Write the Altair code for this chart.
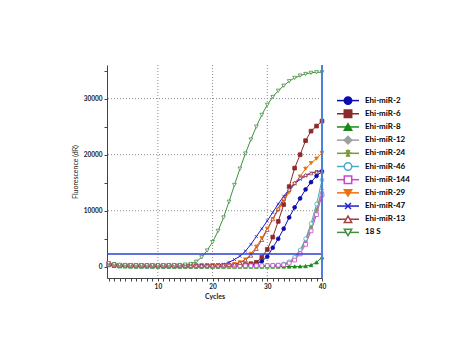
import altair as alt
import pandas as pd

cycles = list(range(1, 41))

series_names = ["Ehi-miR-2", "Ehi-miR-6", "Ehi-miR-8", "Ehi-miR-12", "Ehi-miR-24",
                "Ehi-miR-46", "Ehi-miR-144", "Ehi-miR-29", "Ehi-miR-47", "Ehi-miR-13", "18 S"]
series_colors = ["#0b0bb0", "#8c2a2a", "#1a8a1a", "#a0a0a0", "#7a9a3a",
                 "#4bacc6", "#cc44cc", "#f07010", "#2020d0", "#a04040", "#3f8f3f"]
series_fills = ["#0b0bb0", "#8c2a2a", "#1a8a1a", "#a0a0a0", "#7a9a3a",
                "white", "white", "#f07010", "#2020d0", "white", "white"]
STAR = "M-1,0L1,0M-0.5,-0.866L0.5,0.866M-0.5,0.866L0.5,-0.866M0,-1L0,1"
XSHAPE = "M-0.8,-0.8L0.8,0.8M-0.8,0.8L0.8,-0.8"
series_shapes = ["circle", "square", "triangle-up", "diamond", STAR,
                 "circle", "square", "triangle-down", XSHAPE, "triangle-up", "triangle-down"]

mir2 = [600, 380, 260, 220, 200, 200, 190, 190, 180, 180,
        180, 170, 170, 170, 170, 170, 160, 160, 160, 160,
        160, 160, 170, 180, 200, 240, 330, 550, 1000, 1800,
        3400, 5000, 6800, 8800, 10600, 12200, 13800, 15100, 16200, 17000]
mir6 = [500, 320, 240, 210, 200, 190, 190, 180, 180, 180,
        170, 170, 170, 170, 170, 170, 170, 170, 180, 180,
        190, 200, 220, 250, 300, 400, 550, 800, 1700, 3100,
        5300, 8100, 11100, 14300, 17600, 20000, 22500, 24200, 25100, 26000]
mir8 = [300, 150, 80, 60, 50, 50, 40, 40, 40, 40,
        40, 40, 40, 40, 40, 40, 40, 40, 40, 40,
        40, 40, 40, 40, 40, 40, 40, 40, 40, 40,
        40, 40, 50, 50, 60, 80, 120, 300, 800, 1700]
mir12 = [550, 350, 260, 230, 210, 200, 200, 190, 190, 190,
         190, 190, 190, 190, 190, 190, 190, 190, 190, 190,
         190, 190, 190, 190, 190, 190, 190, 200, 210, 220,
         250, 300, 400, 750, 1400, 2600, 4400, 6900, 9900, 13300]
mir24 = [500, 330, 250, 220, 210, 200, 200, 200, 190, 190,
         190, 190, 190, 190, 190, 190, 190, 190, 190, 190,
         190, 190, 190, 190, 190, 190, 200, 200, 210, 230,
         260, 320, 450, 800, 1500, 2800, 4700, 7200, 10200, 13800]
mir46 = [450, 300, 230, 210, 200, 200, 190, 190, 190, 190,
         190, 190, 190, 190, 190, 190, 190, 190, 190, 190,
         190, 190, 190, 190, 190, 190, 190, 200, 210, 220,
         250, 300, 500, 900, 1700, 3000, 5000, 7700, 11200, 15500]
mir144 = [480, 320, 240, 210, 200, 190, 190, 190, 180, 180,
          180, 180, 180, 180, 180, 180, 180, 180, 180, 180,
          180, 180, 180, 180, 180, 180, 180, 190, 200, 210,
          240, 280, 350, 650, 1200, 2300, 4000, 6400, 9300, 12800]
mir29 = [520, 340, 260, 230, 220, 210, 210, 200, 200, 200,
         200, 200, 200, 200, 200, 200, 200, 200, 210, 220,
         240, 280, 350, 500, 800, 1300, 2300, 3600, 5100, 6800,
         8500, 10100, 11700, 13300, 14800, 16100, 17500, 18500, 19300, 20300]
mir47 = [400, 280, 230, 210, 200, 200, 200, 200, 200, 200,
         200, 200, 200, 200, 200, 200, 210, 220, 240, 260,
         320, 450, 800, 1300, 1900, 2800, 4000, 5400, 6800, 8200,
         9700, 11200, 12600, 13800, 14800, 15600, 16200, 16700, 17000, 17200]
mir13 = [450, 300, 240, 220, 210, 200, 200, 200, 200, 200,
         200, 200, 200, 200, 200, 200, 200, 200, 210, 220,
         240, 280, 330, 400, 700, 1200, 2000, 3200, 4800, 6600,
         8500, 10400, 12200, 13800, 15000, 15900, 16400, 16700, 16900, 17000]
s18 = [650, 450, 350, 320, 300, 300, 290, 290, 280, 280,
       280, 290, 300, 320, 380, 500, 900, 1700, 2900, 4400,
       6400, 8800, 11600, 14600, 17500, 20200, 22700, 25000, 27100, 28900,
       30300, 31400, 32300, 33100, 33700, 34100, 34400, 34600, 34700, 34700]

series_values = [mir2, mir6, mir8, mir12, mir24, mir46, mir144, mir29, mir47, mir13, s18]

threshold = [2300]
end_cycle = [40]

x_ticks = list(range(1, 41))
x_grid = [10, 20, 30]
y_ticks = list(range(0, 36000, 5000))
y_grid = [10000, 20000, 30000]

rows = []
for name, vals in zip(series_names, series_values):
    for c, v in zip(cycles, vals):
        rows.append({"series": name, "cycle": c, "value": v})
df = pd.DataFrame(rows)
legend_df = pd.DataFrame({"series": series_names})

FONT = "Lato"
GRID = "#8c8c8c"

stroke_scale = alt.Scale(domain=series_names, range=series_colors)
fill_scale = alt.Scale(domain=series_names, range=series_fills)
shape_scale = alt.Scale(domain=series_names, range=series_shapes)

x_scale = alt.Scale(domain=[0.7, 40], nice=False, zero=False)
y_scale = alt.Scale(domain=[-2000, 36000], nice=False, zero=False)

x_axis = alt.Axis(values=x_ticks, title="Cycles",
                  labelExpr="datum.value % 10 == 0 ? datum.label : ''",
                  labelOverlap=False, labelFlush=False, labelBound=False,
                  grid=False,
                  tickSize=3, tickColor="#444444", domainColor="#444444",
                  labelFontSize=6.5, labelFontWeight="bold", labelFont=FONT,
                  labelColor="#222222",
                  titleFontSize=7, titleFontWeight="bold", titleFont=FONT,
                  titleColor="#222222",
                  titlePadding=3, labelPadding=2)
y_axis = alt.Axis(values=y_ticks, title="Fluorescence (dR)",
                  format="d",
                  labelExpr="datum.value % 10000 == 0 ? datum.label : ''",
                  labelOverlap=False, labelFlush=False,
                  grid=False,
                  tickSize=3, tickColor="#444444", domainColor="#444444",
                  labelFontSize=6.5, labelFontWeight="bold", labelFont=FONT,
                  labelColor="#222222",
                  titleFontSize=7, titleFontWeight="normal", titleFont=FONT,
                  titleColor="#222222",
                  titlePadding=5, labelPadding=2)


def xq(field):
    return alt.X(field, type="quantitative", scale=x_scale, axis=x_axis)


def yq(field):
    return alt.Y(field, type="quantitative", scale=y_scale, axis=y_axis)


xg = alt.Chart(pd.DataFrame({"g": x_grid})).mark_rule(
    color=GRID, strokeWidth=1, strokeDash=[1, 2]).encode(x=xq("g"))
yg = alt.Chart(pd.DataFrame({"g": y_grid})).mark_rule(
    color=GRID, strokeWidth=1, strokeDash=[1, 2]).encode(y=yq("g"))

base = alt.Chart(df)
lines = base.mark_line(strokeWidth=1).encode(
    x=xq("cycle"), y=yq("value"),
    stroke=alt.Stroke("series:N", scale=stroke_scale, legend=None),
    detail="series:N",
)
points = base.mark_point(filled=True, size=14, strokeWidth=0.8, opacity=1).encode(
    x=xq("cycle"), y=yq("value"),
    stroke=alt.Stroke("series:N", scale=stroke_scale, legend=None),
    fill=alt.Fill("series:N", scale=fill_scale, legend=None),
    shape=alt.Shape("series:N", scale=shape_scale, legend=None),
)
thr = alt.Chart(pd.DataFrame({"t": threshold})).mark_rule(
    color="#2a3fd0", strokeWidth=1.5).encode(y=yq("t"))
vline = alt.Chart(pd.DataFrame({"c": end_cycle})).mark_rule(
    color="#4f7fd8", strokeWidth=2).encode(x=xq("c"))

main = alt.layer(xg, yg, lines, points, thr, vline)

ly = alt.Y("series:N", sort=series_names,
           scale=alt.Scale(type="point", range=[29, 174]), axis=None)
lbase = alt.Chart(legend_df)
leg_line = lbase.mark_rule(strokeWidth=1.5).encode(
    y=ly, x=alt.value(230), x2=alt.value(252),
    stroke=alt.Stroke("series:N", scale=stroke_scale, legend=None))
leg_pt = lbase.mark_point(filled=True, size=55, strokeWidth=1.5, opacity=1).encode(
    y=ly, x=alt.value(241),
    stroke=alt.Stroke("series:N", scale=stroke_scale, legend=None),
    fill=alt.Fill("series:N", scale=fill_scale, legend=None),
    shape=alt.Shape("series:N", scale=shape_scale, legend=None))
leg_txt = lbase.mark_text(align="left", baseline="middle", fontSize=8,
                          fontWeight="bold", font=FONT, color="black").encode(
    y=ly, x=alt.value(258), text="series:N")
legend = alt.layer(leg_line, leg_pt, leg_txt)

chart = alt.layer(main, legend).resolve_scale(y="independent").properties(
    width=215, height=213,
    autosize=alt.AutoSizeParams(type="none"),
    padding={"left": 107, "top": 65, "right": 152, "bottom": 77},
    background="white",
).configure_view(stroke=None)

chart.save("out.html", embed_options={"renderer": "svg", "actions": False})
